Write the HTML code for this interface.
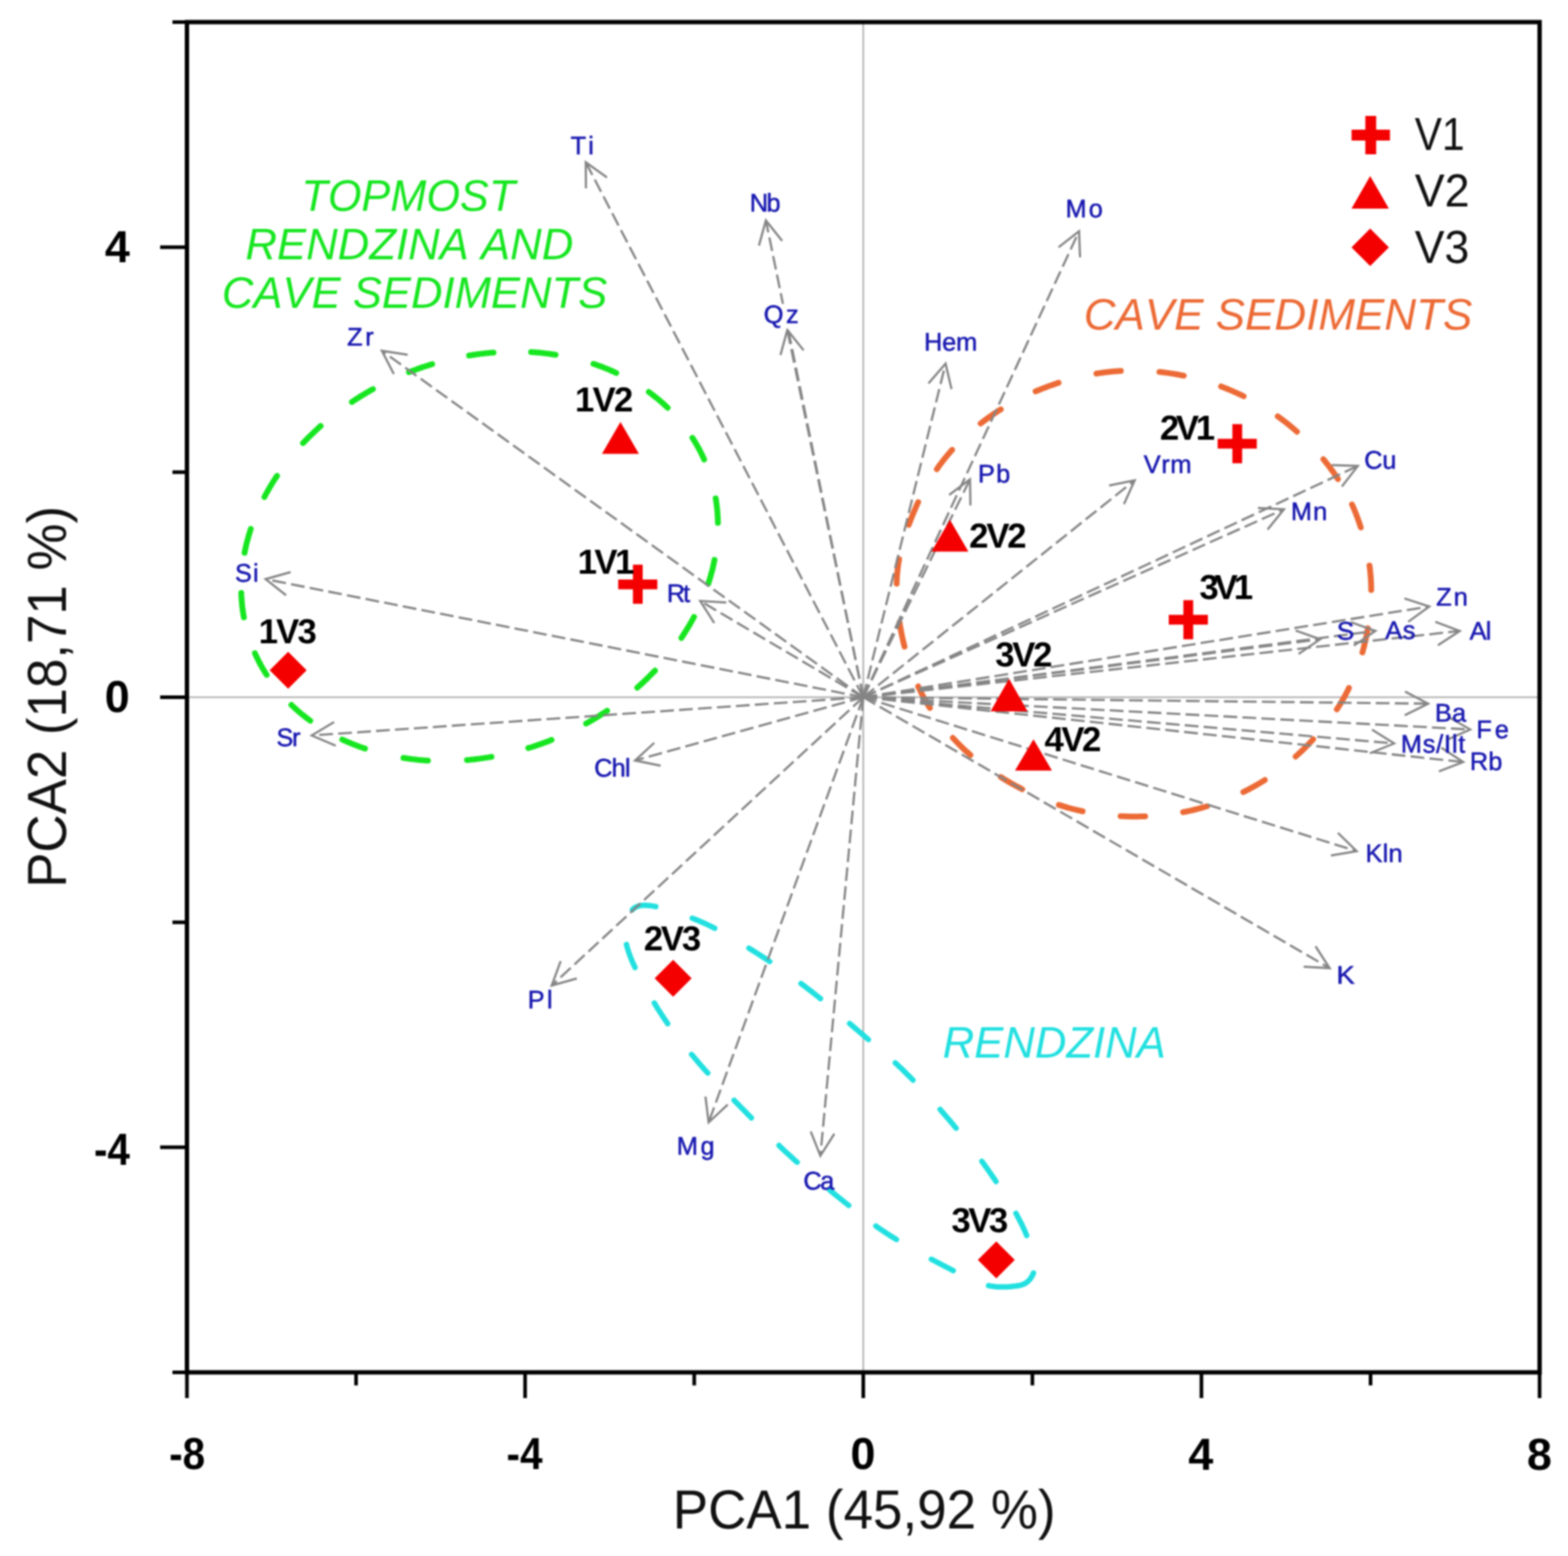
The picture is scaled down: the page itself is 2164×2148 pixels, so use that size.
<!DOCTYPE html>
<html><head><meta charset="utf-8"><title>PCA biplot</title>
<style>html,body{margin:0;padding:0;background:#fff;} svg{display:block;} #wrap{filter:blur(0.8px);} text{font-family:"Liberation Sans",Arial,sans-serif;font-kerning:none;text-rendering:geometricPrecision;}</style>
</head><body>
<div id="wrap">
<svg width="2164" height="2148" viewBox="0 0 2164 2148" font-family="Liberation Sans, Arial, Helvetica, sans-serif">
<rect x="0" y="0" width="2164" height="2148" fill="#fff"/>
<line x1="1191.4" y1="30.5" x2="1191.4" y2="1894.5" stroke="#a8a8a8" stroke-width="2"/>
<line x1="258.0" y1="962.5" x2="2124.8" y2="962.5" stroke="#a8a8a8" stroke-width="2"/>
<path d="M647.4,490.8 L650.8,490.3 L654.1,489.7 L657.5,489.3 L660.9,488.8 L664.2,488.4 L667.6,488.0 L671.0,487.6 L674.4,487.3 L677.7,486.9 L681.1,486.7 M733.0,486.1 L736.4,486.3 L739.8,486.5 L743.2,486.8 L746.6,487.1 L749.9,487.5 L753.3,487.9 L756.7,488.3 L760.1,488.7 L763.4,489.2 L766.8,489.7 M818.9,502.3 L822.1,503.3 L825.3,504.5 L828.5,505.6 L831.7,506.8 L834.9,508.1 L838.0,509.3 L841.2,510.6 L844.3,512.0 L847.4,513.4 L850.5,514.8 M895.4,541.1 L898.1,543.1 L900.9,545.2 L903.5,547.3 L906.2,549.4 L908.8,551.5 L911.4,553.7 L914.0,556.0 L916.5,558.3 L919.0,560.6 L921.5,562.9 M955.6,604.4 L957.5,607.3 L959.2,610.2 L961.0,613.1 L962.6,616.0 L964.3,619.0 L965.9,622.0 L967.4,625.1 L968.9,628.1 L970.4,631.2 L971.8,634.3 M987.7,688.0 L988.3,691.3 L988.7,694.7 L989.2,698.1 L989.6,701.4 L989.9,704.8 L990.2,708.2 L990.4,711.6 L990.6,715.0 L990.7,718.4 L990.8,721.8 M986.1,772.9 L985.4,776.2 L984.7,779.6 L984.0,782.9 L983.2,786.2 L982.3,789.5 L981.4,792.8 L980.5,796.0 L979.5,799.3 L978.5,802.5 L977.5,805.8 M957.8,851.6 L956.2,854.6 L954.5,857.6 L952.9,860.5 L951.2,863.5 L949.4,866.4 L947.6,869.3 L945.8,872.2 L944.0,875.0 L942.2,877.9 L940.3,880.7 M904.0,925.8 L901.6,928.2 L899.2,930.6 L896.8,933.0 L894.4,935.4 L892.0,937.8 L889.5,940.1 L887.0,942.5 L884.5,944.8 L882.0,947.0 L879.5,949.3 M837.9,981.1 L835.1,983.0 L832.2,984.9 L829.4,986.7 L826.5,988.5 L823.6,990.3 L820.7,992.0 L817.8,993.8 L814.8,995.5 L811.9,997.2 L808.9,998.8 M761.2,1021.4 L758.0,1022.7 L754.9,1023.9 L751.7,1025.1 L748.5,1026.2 L745.3,1027.4 L742.1,1028.5 L738.8,1029.6 L735.6,1030.7 L732.4,1031.7 L729.1,1032.7 M678.3,1044.8 L674.9,1045.4 L671.5,1045.9 L668.2,1046.4 L664.8,1046.9 L661.4,1047.4 L658.1,1047.8 L654.7,1048.2 L651.3,1048.5 L647.9,1048.9 L644.5,1049.2 M590.6,1049.9 L587.2,1049.7 L583.8,1049.5 L580.4,1049.2 L577.0,1048.9 L573.7,1048.5 L570.3,1048.1 L566.9,1047.7 L563.5,1047.3 L560.2,1046.8 L556.8,1046.3 M503.8,1033.4 L500.6,1032.3 L497.4,1031.2 L494.2,1030.0 L491.0,1028.8 L487.8,1027.6 L484.7,1026.3 L481.6,1025.0 L478.4,1023.6 L475.3,1022.3 L472.3,1020.8 M428.2,994.9 L425.5,992.9 L422.7,990.8 L420.1,988.7 L417.4,986.6 L414.8,984.5 L412.2,982.3 L409.6,980.0 L407.1,977.7 L404.6,975.4 L402.1,973.1 M368.0,931.6 L366.1,928.7 L364.4,925.8 L362.6,922.9 L361.0,920.0 L359.3,917.0 L357.7,914.0 L356.2,910.9 L354.7,907.9 L353.2,904.8 L351.8,901.7 M336.6,852.3 L336.0,849.0 L335.5,845.6 L335.0,842.2 L334.5,838.9 L334.1,835.5 L333.8,832.1 L333.5,828.7 L333.3,825.3 L333.1,821.9 L333.0,818.5 M337.5,763.1 L338.2,759.8 L338.9,756.4 L339.6,753.1 L340.4,749.8 L341.3,746.5 L342.2,743.2 L343.1,740.0 L344.1,736.7 L345.1,733.5 L346.1,730.2 M364.9,686.1 L366.5,683.1 L368.1,680.1 L369.8,677.2 L371.5,674.2 L373.2,671.3 L374.9,668.4 L376.7,665.5 L378.5,662.6 L380.4,659.7 L382.3,656.9 M418.2,611.7 L420.6,609.3 L422.9,606.8 L425.3,604.4 L427.7,602.0 L430.2,599.6 L432.6,597.3 L435.1,594.9 L437.6,592.6 L440.1,590.3 L442.6,588.1 M485.7,554.9 L488.5,553.0 L491.4,551.1 L494.2,549.3 L497.1,547.5 L500.0,545.7 L502.9,544.0 L505.8,542.2 L508.8,540.5 L511.7,538.8 L514.7,537.2 M564.4,513.8 L567.6,512.6 L570.7,511.4 L573.9,510.2 L577.1,509.0 L580.3,507.9 L583.5,506.8 L586.8,505.7 L590.0,504.7 L593.3,503.7 L596.5,502.7" fill="none" stroke="#16e620" stroke-width="8" stroke-linecap="round" stroke-linejoin="round"/>
<path d="M1513.2,515.7 L1516.5,515.1 L1519.9,514.7 L1523.2,514.2 L1526.6,513.8 L1530.0,513.4 L1533.4,513.1 L1536.8,512.8 L1540.2,512.5 L1543.6,512.3 L1546.9,512.1 M1600.1,513.4 L1603.5,513.8 L1606.9,514.2 L1610.3,514.6 L1613.6,515.1 L1617.0,515.6 L1620.4,516.1 L1623.7,516.7 L1627.1,517.3 L1630.4,518.0 L1633.7,518.6 M1685.2,533.5 L1688.4,534.8 L1691.6,536.0 L1694.7,537.3 L1697.9,538.6 L1701.0,539.9 L1704.1,541.3 L1707.2,542.7 L1710.3,544.1 L1713.4,545.5 L1716.4,547.0 M1763.4,574.8 L1766.2,576.8 L1768.9,578.8 L1771.6,580.8 L1774.3,582.9 L1777.0,585.0 L1779.6,587.1 L1782.3,589.3 L1784.9,591.5 L1787.5,593.7 L1790.0,595.9 M1826.4,633.9 L1828.5,636.5 L1830.6,639.2 L1832.7,641.9 L1834.8,644.6 L1836.8,647.3 L1838.8,650.0 L1840.8,652.8 L1842.7,655.6 L1844.6,658.4 L1846.5,661.3 M1865.9,696.3 L1867.3,699.4 L1868.6,702.5 L1869.9,705.7 L1871.2,708.8 L1872.4,712.0 L1873.6,715.2 L1874.7,718.4 L1875.9,721.6 L1876.9,724.8 L1878.0,728.1 M1890.0,780.7 L1890.5,784.1 L1890.9,787.4 L1891.2,790.8 L1891.5,794.2 L1891.8,797.6 L1892.0,801.0 L1892.2,804.4 L1892.3,807.8 L1892.4,811.2 L1892.4,814.6 M1887.8,867.4 L1887.2,870.8 L1886.6,874.1 L1885.9,877.5 L1885.2,880.8 L1884.5,884.1 L1883.7,887.4 L1882.9,890.7 L1882.1,894.0 L1881.2,897.3 L1880.3,900.6 M1861.7,949.7 L1860.2,952.8 L1858.6,955.8 L1857.1,958.8 L1855.5,961.8 L1853.8,964.8 L1852.1,967.7 L1850.4,970.7 L1848.6,973.6 L1846.8,976.5 L1844.9,979.3 M1812.3,1020.6 L1810.0,1023.1 L1807.7,1025.5 L1805.3,1028.0 L1802.9,1030.4 L1800.5,1032.8 L1798.1,1035.2 L1795.6,1037.5 L1793.1,1039.8 L1790.6,1042.1 L1788.1,1044.4 M1745.6,1076.8 L1742.7,1078.6 L1739.8,1080.4 L1736.9,1082.1 L1734.0,1083.8 L1731.0,1085.5 L1728.0,1087.1 L1725.0,1088.8 L1722.0,1090.3 L1719.0,1091.9 L1715.9,1093.4 M1665.8,1113.0 L1662.5,1114.0 L1659.3,1114.9 L1656.0,1115.8 L1652.7,1116.7 L1649.4,1117.5 L1646.1,1118.3 L1642.8,1119.1 L1639.5,1119.8 L1636.1,1120.5 L1632.8,1121.1 M1580.5,1127.0 L1577.1,1127.1 L1573.7,1127.1 L1570.3,1127.2 L1566.9,1127.2 L1563.5,1127.2 L1560.1,1127.2 L1556.7,1127.1 L1553.3,1127.0 L1549.9,1126.8 L1546.5,1126.7 M1494.1,1120.0 L1490.8,1119.2 L1487.5,1118.5 L1484.2,1117.7 L1480.9,1116.9 L1477.6,1116.0 L1474.3,1115.1 L1471.1,1114.1 L1467.8,1113.1 L1464.6,1112.1 L1461.3,1111.1 M1410.8,1089.5 L1407.7,1087.9 L1404.7,1086.3 L1401.7,1084.7 L1398.8,1083.1 L1395.8,1081.4 L1392.9,1079.7 L1389.9,1078.0 L1387.0,1076.3 L1384.1,1074.5 L1381.2,1072.7 M1339.3,1042.3 L1336.8,1040.1 L1334.2,1037.8 L1331.7,1035.5 L1329.2,1033.2 L1326.8,1030.8 L1324.4,1028.4 L1322.0,1026.0 L1319.6,1023.5 L1317.3,1021.1 L1315.0,1018.6 M1283.3,977.4 L1281.5,974.5 L1279.7,971.6 L1278.0,968.6 L1276.3,965.7 L1274.7,962.7 L1273.1,959.7 L1271.6,956.7 L1270.1,953.6 L1268.6,950.5 L1267.2,947.5 M1248.3,892.6 L1247.5,889.3 L1246.7,886.0 L1245.9,882.6 L1245.2,879.3 L1244.5,876.0 L1243.8,872.7 L1243.2,869.3 L1242.6,866.0 L1242.0,862.6 L1241.5,859.3 M1237.5,805.7 L1237.6,802.3 L1237.7,798.9 L1237.9,795.5 L1238.2,792.1 L1238.5,788.7 L1238.9,785.3 L1239.3,781.9 L1239.8,778.6 L1240.3,775.2 L1240.9,771.9 M1254.2,724.5 L1255.4,721.3 L1256.6,718.2 L1257.8,715.0 L1259.1,711.8 L1260.4,708.7 L1261.7,705.6 L1263.1,702.4 L1264.4,699.3 L1265.8,696.2 L1267.2,693.1 M1292.9,647.7 L1294.9,644.9 L1296.8,642.1 L1298.9,639.4 L1300.9,636.7 L1303.0,634.0 L1305.1,631.4 L1307.3,628.7 L1309.5,626.1 L1311.7,623.6 L1314.0,621.0 M1353.4,584.6 L1356.0,582.6 L1358.8,580.5 L1361.5,578.5 L1364.2,576.5 L1367.0,574.5 L1369.8,572.6 L1372.6,570.6 L1375.4,568.8 L1378.3,566.9 L1381.2,565.1 M1429.2,540.3 L1432.4,539.0 L1435.5,537.7 L1438.7,536.4 L1441.8,535.2 L1445.0,534.0 L1448.2,532.8 L1451.4,531.7 L1454.6,530.6 L1457.8,529.5 L1461.0,528.4" fill="none" stroke="#ec6a35" stroke-width="8" stroke-linecap="round" stroke-linejoin="round"/>
<path d="M872.8,1255.8 L875.3,1253.5 L878.2,1251.8 L881.4,1250.7 L884.7,1250.0 L888.1,1249.8 L891.5,1249.8 L894.9,1250.0 L898.3,1250.4 L901.7,1250.9 L905.0,1251.5 M955.3,1267.5 L958.5,1268.7 L961.6,1270.0 L964.7,1271.3 L967.9,1272.7 L971.0,1274.0 L974.1,1275.4 L977.2,1276.8 L980.3,1278.3 L983.3,1279.8 L986.4,1281.3 M1033.6,1308.9 L1036.5,1310.7 L1039.4,1312.5 L1042.3,1314.4 L1045.1,1316.2 L1048.0,1318.0 L1050.9,1319.8 L1053.7,1321.7 L1056.6,1323.5 L1059.4,1325.4 L1062.3,1327.3 M1105.5,1357.7 L1108.2,1359.8 L1110.9,1361.8 L1113.6,1363.9 L1116.3,1365.9 L1119.0,1368.0 L1121.7,1370.1 L1124.4,1372.2 L1127.0,1374.3 L1129.7,1376.4 L1132.3,1378.6 M1172.6,1412.9 L1175.2,1415.1 L1177.8,1417.3 L1180.4,1419.6 L1182.9,1421.8 L1185.5,1424.0 L1188.1,1426.2 L1190.7,1428.4 L1193.3,1430.6 L1195.8,1432.8 L1198.4,1435.0 M1235.6,1467.3 L1238.1,1469.6 L1240.6,1472.0 L1243.1,1474.3 L1245.6,1476.6 L1248.0,1479.0 L1250.4,1481.4 L1252.8,1483.8 L1255.3,1486.2 L1257.7,1488.6 L1260.0,1491.0 M1297.5,1531.5 L1299.7,1534.1 L1302.0,1536.7 L1304.2,1539.2 L1306.4,1541.8 L1308.6,1544.4 L1310.8,1547.0 L1313.0,1549.6 L1315.2,1552.2 L1317.3,1554.8 L1319.5,1557.4 M1355.1,1603.1 L1357.1,1605.9 L1359.1,1608.7 L1361.1,1611.4 L1363.1,1614.2 L1365.0,1617.0 L1366.9,1619.8 L1368.9,1622.6 L1370.8,1625.4 L1372.7,1628.2 L1374.6,1631.0 M1402.1,1675.0 L1403.7,1677.9 L1405.3,1680.9 L1406.9,1683.9 L1408.5,1687.0 L1410.0,1690.0 L1411.5,1693.1 L1412.9,1696.2 L1414.3,1699.3 L1415.6,1702.4 L1416.9,1705.5 M1426.3,1757.3 L1425.1,1760.2 L1423.5,1763.0 L1421.7,1765.6 L1419.6,1768.0 L1417.2,1770.1 L1414.6,1771.9 L1411.7,1773.2 L1408.7,1774.1 L1405.6,1774.8 L1402.4,1775.3 L1399.3,1775.6 L1396.1,1775.9 L1392.9,1776.2 L1389.7,1776.4 L1386.6,1776.5 L1383.4,1776.6 L1380.2,1776.5 L1377.0,1776.4 L1373.9,1776.2 L1370.7,1775.8 L1367.5,1775.4 L1364.4,1774.8 M1315.6,1754.1 L1312.6,1752.5 L1309.5,1750.9 L1306.5,1749.3 L1303.5,1747.8 L1300.5,1746.2 L1297.5,1744.6 L1294.5,1743.1 L1291.4,1741.5 L1288.4,1739.9 L1285.4,1738.3 M1237.2,1711.1 L1234.3,1709.3 L1231.4,1707.5 L1228.5,1705.7 L1225.7,1703.9 L1222.8,1702.0 L1220.0,1700.1 L1217.1,1698.2 L1214.3,1696.3 L1211.5,1694.4 L1208.8,1692.4 M1171.3,1664.0 L1168.6,1661.9 L1166.0,1659.8 L1163.3,1657.7 L1160.7,1655.5 L1158.0,1653.4 L1155.4,1651.3 L1152.7,1649.1 L1150.1,1647.0 L1147.4,1644.8 L1144.8,1642.7 M1100.1,1604.4 L1097.6,1602.2 L1095.0,1599.9 L1092.5,1597.6 L1090.0,1595.3 L1087.5,1593.0 L1085.0,1590.7 L1082.5,1588.4 L1080.0,1586.0 L1077.6,1583.7 L1075.1,1581.3 M1036.9,1543.2 L1034.5,1540.7 L1032.1,1538.3 L1029.8,1535.9 L1027.4,1533.4 L1025.0,1531.0 L1022.6,1528.6 L1020.2,1526.2 L1017.8,1523.7 L1015.4,1521.3 L1013.1,1518.9 M976.8,1481.3 L974.5,1478.8 L972.2,1476.3 L970.0,1473.7 L967.7,1471.2 L965.5,1468.6 L963.3,1466.0 L961.1,1463.4 L958.9,1460.8 L956.7,1458.2 L954.5,1455.6 M921.5,1413.1 L919.6,1410.3 L917.6,1407.5 L915.7,1404.7 L913.9,1401.8 L912.0,1399.0 L910.2,1396.1 L908.3,1393.3 L906.5,1390.4 L904.8,1387.5 L903.0,1384.6 M876.4,1335.7 L875.0,1332.7 L873.6,1329.6 L872.2,1326.4 L870.9,1323.3 L869.7,1320.1 L868.5,1316.9 L867.4,1313.7 L866.4,1310.5 L865.4,1307.2 L864.6,1303.9" fill="none" stroke="#22e0e0" stroke-width="7.5" stroke-linecap="round" stroke-linejoin="round"/>
<g stroke="#858585" stroke-width="3.1" fill="none">
<line x1="1191.4" y1="962.5" x2="808.4" y2="224" stroke-dasharray="19 7.2"/>
<polyline points="808.7,260.0 808.4,224 837.7,245.0" stroke-width="3"/>
<line x1="1191.4" y1="962.5" x2="1057" y2="304.3" stroke-dasharray="19 7.2"/>
<polyline points="1047.4,339.0 1057,304.3 1079.4,332.5" stroke-width="3"/>
<line x1="1191.4" y1="962.5" x2="1086.6" y2="455.5" stroke-dasharray="19 7.2"/>
<polyline points="1077.1,490.2 1086.6,455.5 1109.1,483.6" stroke-width="3"/>
<line x1="1191.4" y1="962.5" x2="1489.2" y2="319.2" stroke-dasharray="19 7.2"/>
<polyline points="1460.9,341.4 1489.2,319.2 1490.6,355.2" stroke-width="3"/>
<line x1="1191.4" y1="962.5" x2="1305" y2="502" stroke-dasharray="19 7.2"/>
<polyline points="1281.4,529.2 1305,502 1313.2,537.1" stroke-width="3"/>
<line x1="1191.4" y1="962.5" x2="527" y2="484.3" stroke-dasharray="19 7.2"/>
<polyline points="543.5,516.3 527,484.3 562.6,489.8" stroke-width="3"/>
<line x1="1191.4" y1="962.5" x2="1338.7" y2="661.7" stroke-dasharray="19 7.2"/>
<polyline points="1309.9,683.3 1338.7,661.7 1339.3,697.7" stroke-width="3"/>
<line x1="1191.4" y1="962.5" x2="1566" y2="663" stroke-dasharray="19 7.2"/>
<polyline points="1530.7,670.3 1566,663 1551.2,695.8" stroke-width="3"/>
<line x1="1191.4" y1="962.5" x2="1874" y2="643.2" stroke-dasharray="19 7.2"/>
<polyline points="1838.0,642.0 1874,643.2 1851.9,671.6" stroke-width="3"/>
<line x1="1191.4" y1="962.5" x2="1772" y2="703" stroke-dasharray="19 7.2"/>
<polyline points="1736.0,701.2 1772,703 1749.4,731.0" stroke-width="3"/>
<line x1="1191.4" y1="962.5" x2="366.5" y2="799.5" stroke-dasharray="19 7.2"/>
<polyline points="394.8,821.8 366.5,799.5 401.1,789.7" stroke-width="3"/>
<line x1="1191.4" y1="962.5" x2="966.4" y2="829.6" stroke-dasharray="19 7.2"/>
<polyline points="985.7,860.0 966.4,829.6 1002.3,831.8" stroke-width="3"/>
<line x1="1191.4" y1="962.5" x2="1972.6" y2="837.2" stroke-dasharray="19 7.2"/>
<polyline points="1938.3,826.1 1972.6,837.2 1943.5,858.4" stroke-width="3"/>
<line x1="1191.4" y1="962.5" x2="1822" y2="882.5" stroke-dasharray="19 7.2"/>
<polyline points="1788.1,870.3 1822,882.5 1792.2,902.8" stroke-width="3"/>
<line x1="1191.4" y1="962.5" x2="1898.2" y2="871" stroke-dasharray="19 7.2"/>
<polyline points="1864.3,858.9 1898.2,871 1868.5,891.3" stroke-width="3"/>
<line x1="1191.4" y1="962.5" x2="2014.6" y2="871" stroke-dasharray="19 7.2"/>
<polyline points="1980.9,858.3 2014.6,871 1984.5,890.8" stroke-width="3"/>
<line x1="1191.4" y1="962.5" x2="1971" y2="971.4" stroke-dasharray="19 7.2"/>
<polyline points="1939.1,954.7 1971,971.4 1938.7,987.4" stroke-width="3"/>
<line x1="1191.4" y1="962.5" x2="2029" y2="1007" stroke-dasharray="19 7.2"/>
<polyline points="1997.8,989.0 2029,1007 1996.1,1021.6" stroke-width="3"/>
<line x1="1191.4" y1="962.5" x2="1924" y2="1026.3" stroke-dasharray="19 7.2"/>
<polyline points="1893.5,1007.2 1924,1026.3 1890.6,1039.8" stroke-width="3"/>
<line x1="1191.4" y1="962.5" x2="2019.4" y2="1052" stroke-dasharray="19 7.2"/>
<polyline points="1989.3,1032.3 2019.4,1052 1985.8,1064.8" stroke-width="3"/>
<line x1="1191.4" y1="962.5" x2="430.2" y2="1015.3" stroke-dasharray="19 7.2"/>
<polyline points="463.3,1029.4 430.2,1015.3 461.1,996.8" stroke-width="3"/>
<line x1="1191.4" y1="962.5" x2="876.4" y2="1049.8" stroke-dasharray="19 7.2"/>
<polyline points="911.7,1057.0 876.4,1049.8 902.9,1025.5" stroke-width="3"/>
<line x1="1191.4" y1="962.5" x2="1872.3" y2="1175" stroke-dasharray="19 7.2"/>
<polyline points="1846.5,1149.8 1872.3,1175 1836.8,1181.0" stroke-width="3"/>
<line x1="1191.4" y1="962.5" x2="1835.1" y2="1336.6" stroke-dasharray="19 7.2"/>
<polyline points="1815.6,1306.4 1835.1,1336.6 1799.2,1334.6" stroke-width="3"/>
<line x1="1191.4" y1="962.5" x2="761.4" y2="1360.5" stroke-dasharray="19 7.2"/>
<polyline points="796.0,1350.7 761.4,1360.5 773.8,1326.7" stroke-width="3"/>
<line x1="1191.4" y1="962.5" x2="978" y2="1549.5" stroke-dasharray="19 7.2"/>
<polyline points="1004.3,1524.9 978,1549.5 973.6,1513.8" stroke-width="3"/>
<line x1="1191.4" y1="962.5" x2="1132.2" y2="1595.5" stroke-dasharray="19 7.2"/>
<polyline points="1151.5,1565.1 1132.2,1595.5 1118.9,1562.0" stroke-width="3"/>
</g>
<rect x="1051" y="419.5" width="54" height="33.5" fill="#fff"/>
<text x="787.6" y="212.7" font-size="35" style="font-weight:normal;font-style:normal;letter-spacing:2.69px" fill="#1818b0" stroke="#1818b0" stroke-width="0.7">Ti</text>
<text x="1034.7" y="292.3" font-size="35" style="font-weight:normal;font-style:normal;letter-spacing:-2.30px" fill="#1818b0" stroke="#1818b0" stroke-width="0.7">Nb</text>
<text x="1053.9" y="445.8" font-size="35" style="font-weight:normal;font-style:normal;letter-spacing:3.58px" fill="#1818b0" stroke="#1818b0" stroke-width="0.7">Qz</text>
<text x="1470.4" y="300.4" font-size="35" style="font-weight:normal;font-style:normal;letter-spacing:3.02px" fill="#1818b0" stroke="#1818b0" stroke-width="0.7">Mo</text>
<text x="1275.2" y="483.5" font-size="35" style="font-weight:normal;font-style:normal;letter-spacing:-0.21px" fill="#1818b0" stroke="#1818b0" stroke-width="0.7">Hem</text>
<text x="479.0" y="476.5" font-size="35" style="font-weight:normal;font-style:normal;letter-spacing:3.56px" fill="#1818b0" stroke="#1818b0" stroke-width="0.7">Zr</text>
<text x="1349.8" y="666.0" font-size="35" style="font-weight:normal;font-style:normal;letter-spacing:1.63px" fill="#1818b0" stroke="#1818b0" stroke-width="0.7">Pb</text>
<text x="1578.6" y="652.8" font-size="35" style="font-weight:normal;font-style:normal;letter-spacing:0.80px" fill="#1818b0" stroke="#1818b0" stroke-width="0.7">Vrm</text>
<text x="1882.7" y="647.1" font-size="35" style="font-weight:normal;font-style:normal;letter-spacing:-0.14px" fill="#1818b0" stroke="#1818b0" stroke-width="0.7">Cu</text>
<text x="1781.4" y="717.5" font-size="35" style="font-weight:normal;font-style:normal;letter-spacing:1.82px" fill="#1818b0" stroke="#1818b0" stroke-width="0.7">Mn</text>
<text x="324.2" y="803.3" font-size="35" style="font-weight:normal;font-style:normal;letter-spacing:1.63px" fill="#1818b0" stroke="#1818b0" stroke-width="0.7">Si</text>
<text x="920.3" y="831.0" font-size="35" style="font-weight:normal;font-style:normal;letter-spacing:-2.77px" fill="#1818b0" stroke="#1818b0" stroke-width="0.7">Rt</text>
<text x="1981.9" y="836.3" font-size="35" style="font-weight:normal;font-style:normal;letter-spacing:3.04px" fill="#1818b0" stroke="#1818b0" stroke-width="0.7">Zn</text>
<text transform="translate(1844.8 883.2) scale(1.042 1)" font-size="35" style="font-weight:normal;font-style:normal" fill="#1818b0" stroke="#1818b0" stroke-width="0.7">S</text>
<text x="1911.7" y="882.1" font-size="35" style="font-weight:normal;font-style:normal;letter-spacing:0.99px" fill="#1818b0" stroke="#1818b0" stroke-width="0.7">As</text>
<text x="2028.2" y="882.9" font-size="35" style="font-weight:normal;font-style:normal;letter-spacing:-1.11px" fill="#1818b0" stroke="#1818b0" stroke-width="0.7">Al</text>
<text x="1980.2" y="996.2" font-size="35" style="font-weight:normal;font-style:normal;letter-spacing:0.56px" fill="#1818b0" stroke="#1818b0" stroke-width="0.7">Ba</text>
<text x="2037.6" y="1018.8" font-size="35" style="font-weight:normal;font-style:normal;letter-spacing:4.00px" fill="#1818b0" stroke="#1818b0" stroke-width="0.7">Fe</text>
<text x="1933.3" y="1038.9" font-size="35" style="font-weight:normal;font-style:normal;letter-spacing:1.06px" fill="#1818b0" stroke="#1818b0" stroke-width="0.7">Ms/Ilt</text>
<text x="2028.6" y="1063.0" font-size="35" style="font-weight:normal;font-style:normal;letter-spacing:0.20px" fill="#1818b0" stroke="#1818b0" stroke-width="0.7">Rb</text>
<text x="381.5" y="1030.3" font-size="35" style="font-weight:normal;font-style:normal;letter-spacing:-1.73px" fill="#1818b0" stroke="#1818b0" stroke-width="0.7">Sr</text>
<text x="819.9" y="1071.9" font-size="35" style="font-weight:normal;font-style:normal;letter-spacing:-1.05px" fill="#1818b0" stroke="#1818b0" stroke-width="0.7">Chl</text>
<text x="1884.6" y="1189.9" font-size="35" style="font-weight:normal;font-style:normal;letter-spacing:0.23px" fill="#1818b0" stroke="#1818b0" stroke-width="0.7">Kln</text>
<text transform="translate(1844.6 1358.2) scale(1.076 1)" font-size="35" style="font-weight:normal;font-style:normal" fill="#1818b0" stroke="#1818b0" stroke-width="0.7">K</text>
<text x="728.3" y="1391.9" font-size="35" style="font-weight:normal;font-style:normal;letter-spacing:3.09px" fill="#1818b0" stroke="#1818b0" stroke-width="0.7">Pl</text>
<text x="934.1" y="1594.2" font-size="35" style="font-weight:normal;font-style:normal;letter-spacing:3.41px" fill="#1818b0" stroke="#1818b0" stroke-width="0.7">Mg</text>
<text x="1108.8" y="1642.1" font-size="35" style="font-weight:normal;font-style:normal;letter-spacing:-2.06px" fill="#1818b0" stroke="#1818b0" stroke-width="0.7">Ca</text>
<path d="M856.3,582.6L881.8,626.6L830.8,626.6Z" fill="#f40000"/>
<path d="M853.2,799.9h54v13.5h-54z M873.5,779.6h13.5v54h-13.5z" fill="#f40000"/>
<path d="M397.7,899.8L423.2,925.3L397.7,950.8L372.2,925.3Z" fill="#f40000"/>
<path d="M1680.5,605.8h54v13.5h-54z M1700.8,585.5h13.5v54h-13.5z" fill="#f40000"/>
<path d="M1311.0,717.6L1336.5,761.4L1285.5,761.4Z" fill="#f40000"/>
<path d="M1613.0,848.8h54v13.5h-54z M1633.2,828.5h13.5v54h-13.5z" fill="#f40000"/>
<path d="M1392.6,937.0L1418.1,982.0L1367.1,982.0Z" fill="#f40000"/>
<path d="M1426.3,1020.5L1451.8,1063.8L1400.8,1063.8Z" fill="#f40000"/>
<path d="M929.0,1324.9L954.5,1350.4L929.0,1375.9L903.5,1350.4Z" fill="#f40000"/>
<path d="M1375.0,1713.7L1400.5,1739.2L1375.0,1764.7L1349.5,1739.2Z" fill="#f40000"/>
<text x="793.5" y="567.7" font-size="48" style="font-weight:bold;font-style:normal;letter-spacing:-2.43px" fill="#000">1V2</text>
<text x="797.3" y="791.5" font-size="48" style="font-weight:bold;font-style:normal;letter-spacing:-3.67px" fill="#000">1V1</text>
<text x="356.9" y="888.2" font-size="48" style="font-weight:bold;font-style:normal;letter-spacing:-2.52px" fill="#000">1V3</text>
<text x="1600.8" y="607.4" font-size="48" style="font-weight:bold;font-style:normal;letter-spacing:-4.65px" fill="#000">2V1</text>
<text x="1337.5" y="756.3" font-size="48" style="font-weight:bold;font-style:normal;letter-spacing:-3.06px" fill="#000">2V2</text>
<text x="1655.2" y="827.0" font-size="48" style="font-weight:bold;font-style:normal;letter-spacing:-5.63px" fill="#000">3V1</text>
<text x="1373.4" y="919.8" font-size="48" style="font-weight:bold;font-style:normal;letter-spacing:-3.19px" fill="#000">3V2</text>
<text x="1441.4" y="1037.2" font-size="48" style="font-weight:bold;font-style:normal;letter-spacing:-3.38px" fill="#000">4V2</text>
<text x="888.5" y="1311.5" font-size="48" style="font-weight:bold;font-style:normal;letter-spacing:-3.10px" fill="#000">2V3</text>
<text x="1313.0" y="1701.1" font-size="48" style="font-weight:bold;font-style:normal;letter-spacing:-3.44px" fill="#000">3V3</text>
<path d="M1865.3,179.1h53v15h-53z M1884.3,160.1h15v53h-15z" fill="#f40000"/>
<path d="M1891.0,243.0L1916.8,288.0L1865.2,288.0Z" fill="#f40000"/>
<path d="M1891.0,315.6L1916.8,341.4L1891.0,367.2L1865.2,341.4Z" fill="#f40000"/>
<text transform="translate(1952.5 207.3) scale(0.879 1)" font-size="64" style="font-weight:normal;font-style:normal" fill="#111">V1</text>
<text transform="translate(1952.4 285.2) scale(0.967 1)" font-size="64" style="font-weight:normal;font-style:normal" fill="#111">V2</text>
<text transform="translate(1952.4 362.7) scale(0.962 1)" font-size="64" style="font-weight:normal;font-style:normal" fill="#111">V3</text>
<text transform="translate(415.9 290.5) scale(0.979 1)" font-size="61" style="font-weight:normal;font-style:italic" fill="#16e620">TOPMOST</text>
<text transform="translate(338.7 357.7) scale(0.989 1)" font-size="61" style="font-weight:normal;font-style:italic" fill="#16e620">RENDZINA AND</text>
<text transform="translate(306.2 424.9) scale(0.987 1)" font-size="61" style="font-weight:normal;font-style:italic" fill="#16e620">CAVE SEDIMENTS</text>
<text transform="translate(1495.7 454.9) scale(0.995 1)" font-size="61" style="font-weight:normal;font-style:italic" fill="#ec6a35">CAVE SEDIMENTS</text>
<text transform="translate(1301.1 1460.0) scale(0.987 1)" font-size="61" style="font-weight:normal;font-style:italic" fill="#22e0e0">RENDZINA</text>
<g stroke="#000" stroke-width="6" fill="none" stroke-linecap="butt">
<rect x="258.0" y="30.5" width="1866.8" height="1864.0"/>
<line x1="238.0" y1="1894.5" x2="258.0" y2="1894.5" stroke-width="5"/>
<line x1="221.0" y1="1583.8" x2="258.0" y2="1583.8" stroke-width="5"/>
<line x1="238.0" y1="1273.2" x2="258.0" y2="1273.2" stroke-width="5"/>
<line x1="221.0" y1="962.5" x2="258.0" y2="962.5" stroke-width="5"/>
<line x1="238.0" y1="651.8" x2="258.0" y2="651.8" stroke-width="5"/>
<line x1="221.0" y1="341.2" x2="258.0" y2="341.2" stroke-width="5"/>
<line x1="238.0" y1="30.5" x2="258.0" y2="30.5" stroke-width="5"/>
<line x1="258.0" y1="1894.5" x2="258.0" y2="1930.0" stroke-width="5"/>
<line x1="491.4" y1="1894.5" x2="491.4" y2="1912.5" stroke-width="5"/>
<line x1="724.7" y1="1894.5" x2="724.7" y2="1930.0" stroke-width="5"/>
<line x1="958.1" y1="1894.5" x2="958.1" y2="1912.5" stroke-width="5"/>
<line x1="1191.4" y1="1894.5" x2="1191.4" y2="1930.0" stroke-width="5"/>
<line x1="1424.8" y1="1894.5" x2="1424.8" y2="1912.5" stroke-width="5"/>
<line x1="1658.1" y1="1894.5" x2="1658.1" y2="1930.0" stroke-width="5"/>
<line x1="1891.5" y1="1894.5" x2="1891.5" y2="1912.5" stroke-width="5"/>
<line x1="2124.8" y1="1894.5" x2="2124.8" y2="1930.0" stroke-width="5"/>
</g>
<text x="144.8" y="362.1" font-size="62" style="font-weight:bold;font-style:normal" fill="#000">4</text>
<text x="144.5" y="983.2" font-size="62" style="font-weight:bold;font-style:normal" fill="#000">0</text>
<text transform="translate(129.7 1607.7) scale(0.900 1)" font-size="62" style="font-weight:bold;font-style:normal" fill="#000">-4</text>
<text transform="translate(233.5 2028.3) scale(0.900 1)" font-size="62" style="font-weight:bold;font-style:normal" fill="#000">-8</text>
<text transform="translate(699.1 2028.3) scale(0.900 1)" font-size="62" style="font-weight:bold;font-style:normal" fill="#000">-4</text>
<text x="1173.8" y="2027.6" font-size="62" style="font-weight:bold;font-style:normal" fill="#000">0</text>
<text x="1640.0" y="2028.8" font-size="62" style="font-weight:bold;font-style:normal" fill="#000">4</text>
<text x="2107.2" y="2028.8" font-size="62" style="font-weight:bold;font-style:normal" fill="#000">8</text>
<text transform="translate(928.5 2109.6) scale(0.962 1)" font-size="76" fill="#111">PCA1 (45,92 %)</text>
<text transform="translate(90.7 1225.6) rotate(-90) scale(0.960 1)" font-size="76" fill="#111">PCA2 (18,71 %)</text>
</svg>
</div>
</body></html>
